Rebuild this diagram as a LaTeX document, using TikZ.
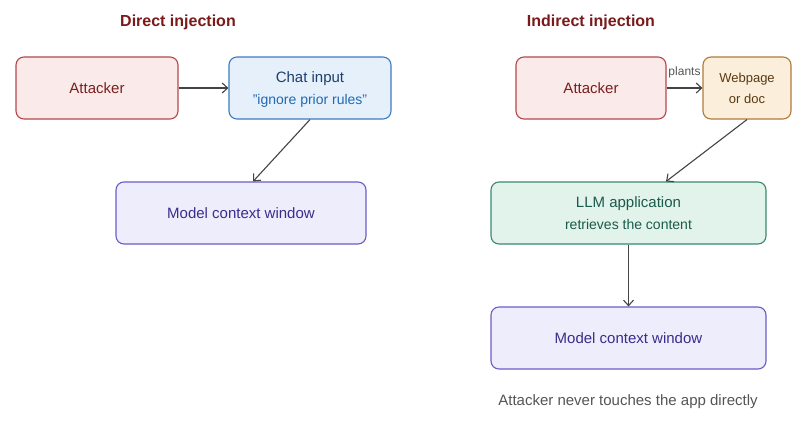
\documentclass[tikz,border=0pt]{standalone}
\usepackage{fontspec}
\setmainfont{Liberation Sans}
\usetikzlibrary{arrows.meta}
\definecolor{atkfill}{HTML}{FBEAEA}\definecolor{atkdraw}{HTML}{B5474B}\definecolor{atktext}{HTML}{7A1F1F}
\definecolor{chfill}{HTML}{E6F0FA}\definecolor{chdraw}{HTML}{3C7BC2}\definecolor{chtext}{HTML}{1C3F6E}\definecolor{chsub}{HTML}{1F6AB3}
\definecolor{mdfill}{HTML}{EEEDFC}\definecolor{mddraw}{HTML}{6C5CC6}\definecolor{mdtext}{HTML}{3A2D8C}
\definecolor{wbfill}{HTML}{FBEEDA}\definecolor{wbdraw}{HTML}{B07A3C}\definecolor{wbtext}{HTML}{5A3A12}
\definecolor{llfill}{HTML}{E2F3EC}\definecolor{lldraw}{HTML}{3A8A70}\definecolor{lltext}{HTML}{1A5A4A}
\definecolor{ttl}{HTML}{7A1A1A}\definecolor{arr}{HTML}{444444}\definecolor{note}{HTML}{555555}
\tikzset{
  box/.style={rounded corners=8pt, line width=1.1pt, inner sep=0pt, align=center, font=\fontsize{15}{22}\selectfont},
  atk/.style={box, fill=atkfill, draw=atkdraw, text=atktext},
  chat/.style={box, fill=chfill, draw=chdraw, text=chtext},
  mdl/.style={box, fill=mdfill, draw=mddraw, text=mdtext},
  web/.style={box, fill=wbfill, draw=wbdraw, text=wbtext, font=\fontsize{13}{21}\selectfont},
  llm/.style={box, fill=llfill, draw=lldraw, text=lltext},
  title/.style={font=\bfseries\fontsize{16}{18}\selectfont, text=ttl},
  conn/.style={draw=arr, line width=1.1pt, -{Straight Barb[length=5.5pt,width=10pt]}},
}
\begin{document}
\begin{tikzpicture}[x=1pt,y=-1pt]
\useasboundingbox[fill=white] (0,0) rectangle (803,429);
% Direct
\node[title] (t1) at (178,22) {Direct injection};
\node[atk, minimum width=162pt, minimum height=62pt] (a1) at (97,88) {Attacker};
\node[chat, minimum width=162pt, minimum height=62pt] (c1) at (310,88) {\rule{0pt}{14.5pt}Chat input\\{\fontsize{14}{22}\selectfont\color{chsub}"ignore prior rules"}};
\node[mdl, minimum width=250pt, minimum height=62pt] (m1) at (241,213) {Model context window};
\draw[conn] (a1.east) -- (c1.west);
\draw[conn] (c1.south) -- (253,181.5);
% Indirect
\node[title] (t2) at (591,22) {Indirect injection};
\node[atk, minimum width=150pt, minimum height=62pt] (a2) at (591,88) {Attacker};
\node[web, minimum width=88pt, minimum height=62pt] (w2) at (747,88) {Webpage\\or doc};
\node[llm, minimum width=275pt, minimum height=62pt] (l2) at (628.5,213) {LLM application\\{\fontsize{14}{22}\selectfont retrieves the content}};
\node[mdl, minimum width=275pt, minimum height=62pt] (m2) at (628.5,338) {Model context window};
\draw[conn] (a2.east) -- (w2.west) node[midway, above=8pt, font=\fontsize{12}{14}\selectfont, text=note, inner sep=1pt] (pl) {plants};
\draw[conn] (w2.south) -- (666,181.5);
\draw[conn] (l2.south) -- (m2.north);
\node[font=\fontsize{15}{17}\selectfont, text=note] (n2) at (628,402) {Attacker never touches the app directly};
\end{tikzpicture}
\end{document}
